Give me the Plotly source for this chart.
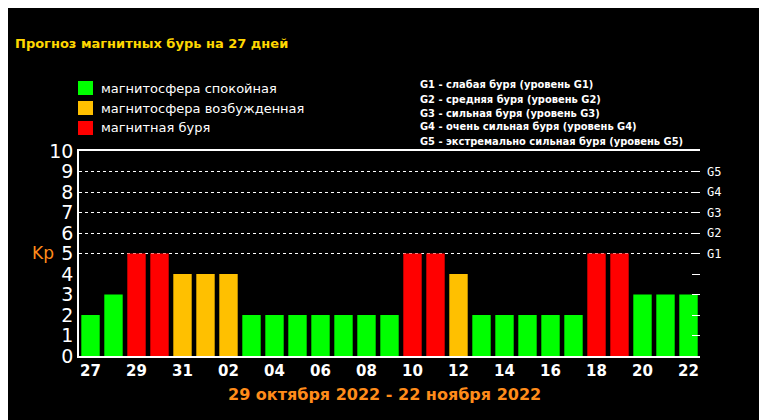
import plotly.graph_objects as go

days = ["27", "28", "29", "30", "31", "01", "02", "03", "04", "05", "06", "07", "08", "09",
        "10", "11", "12", "13", "14", "15", "16", "17", "18", "19", "20", "21", "22"]
kp = [2, 3, 5, 5, 4, 4, 4, 2, 2, 2, 2, 2, 2, 2, 5, 5, 4, 2, 2, 2, 2, 2, 5, 5, 3, 3, 3]
g_levels = ["G1", "G2", "G3", "G4", "G5"]
legend_items = [("#00ff00", "магнитосфера спокойная"),
                ("#ffc000", "магнитосфера возбужденная"),
                ("#ff0000", "магнитная буря")]
g_notes = ["G1 - слабая буря (уровень G1)",
           "G2 - средняя буря (уровень G2)",
           "G3 - сильная буря (уровень G3)",
           "G4 - очень сильная буря (уровень G4)",
           "G5 - экстремально сильная буря (уровень G5)"]


def kp_color(v):
    if v >= 5:
        return "#ff0000"
    if v == 4:
        return "#ffc000"
    return "#00ff00"


x = list(range(len(days)))
fig = go.Figure(go.Bar(x=x, y=kp, marker=dict(color=[kp_color(v) for v in kp], line_width=0),
                       width=0.8, showlegend=False))
# invisible traces for the right axes
for ax in ("y2", "y3"):
    fig.add_trace(go.Scatter(x=[0], y=[0], yaxis=ax, mode="markers", marker_opacity=0,
                             showlegend=False, hoverinfo="skip"))

fig.update_layout(
    width=767, height=420,
    paper_bgcolor="black", plot_bgcolor="black",
    margin=dict(l=71, r=75, t=143, b=72),
    font=dict(family="Verdana, DejaVu Sans", color="white"),
    xaxis=dict(range=[-0.5, 26.5], tickvals=x[::2], ticktext=days[::2], automargin=False,
               showgrid=False, showline=True, linecolor="white", linewidth=1.5, mirror=True,
               ticks="", tickfont=dict(size=15, color="white", family="DejaVu Sans", weight="bold"),
               fixedrange=True),
    yaxis=dict(range=[0, 10], dtick=1, showgrid=False, automargin=False,
               showline=True, linecolor="white", linewidth=1.5,
               tickfont=dict(size=19, color="white", family="DejaVu Sans"), ticks="",
               zeroline=False),
    yaxis2=dict(range=[0, 10], overlaying="y", side="right", tickvals=[5, 6, 7, 8, 9],
                ticktext=g_levels, ticks="inside", ticklen=8, automargin=False,
                tickcolor="white", showgrid=True, gridcolor="white", griddash="dot",
                zeroline=False, ticklabelstandoff=6, layer="below traces",
                tickfont=dict(size=12, color="white", family="DejaVu Sans Mono")),
    yaxis3=dict(range=[0, 10], overlaying="y", side="right", tickvals=[1, 2, 3, 4],
                showticklabels=False, ticks="inside", ticklen=8, tickcolor="white",
                showgrid=False, zeroline=False, automargin=False),
)

ann = [
    dict(text="<b>Прогноз магнитных бурь на 27 дней</b>", x=5, y=35, font=dict(size=13, color="#ffd700")),
    dict(text="<b>29 октября 2022 - 22 ноября 2022</b>", x=218, y=386, font=dict(size=16, color="#ff8c1a")),
    dict(text="Kp", x=22, y=245, font=dict(size=17, color="#ff8c1a")),
]
shapes = []
for i, (c, t) in enumerate(legend_items):
    yc = 80 + i * 20
    shapes.append(dict(type="rect", xref="paper", yref="paper",
                       x0=(70 - 71) / 621, x1=(85 - 71) / 621,
                       y0=(348 - yc - 7) / 205, y1=(348 - yc + 7) / 205,
                       fillcolor=c, line_width=0))
    ann.append(dict(text=t, x=91, y=yc, font=dict(size=13, color="white")))
for i, t in enumerate(g_notes):
    ann.append(dict(text="<b>" + t + "</b>", x=410, y=77 + i * 14,
                    font=dict(size=11, color="white", family="DejaVu Sans Condensed")))
for a in ann:
    px_x, px_y = a.pop("x"), a.pop("y")
    fig.add_annotation(xref="paper", yref="paper", x=(px_x - 71) / 621, y=(348 - px_y) / 205,
                       xanchor="left", yanchor="middle", showarrow=False, **a)
fig.update_layout(shapes=shapes)

fig.write_html("out.html")
